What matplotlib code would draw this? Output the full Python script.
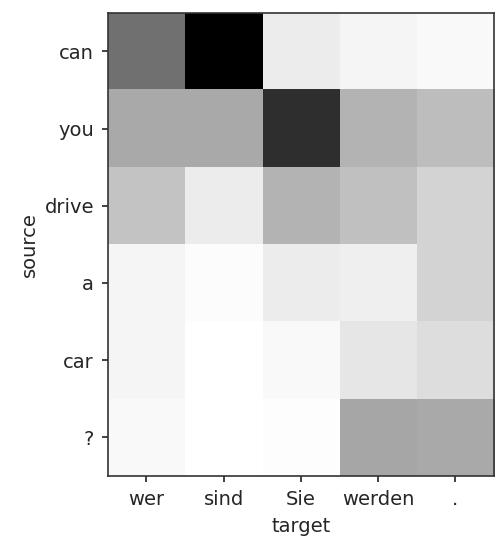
import numpy as np
import matplotlib
matplotlib.use('Agg')
import matplotlib.pyplot as plt

# attention weights (rows = source, cols = target)
source_tokens = ['can', 'you', 'drive', 'a', 'car', '?']
target_tokens = ['wer', 'sind', 'Sie', 'werden', '.']

att_can = [0.56, 1.00, 0.075, 0.04, 0.027]
att_you = [0.337, 0.337, 0.82, 0.294, 0.259]
att_drive = [0.235, 0.075, 0.298, 0.247, 0.173]
att_a = [0.04, 0.012, 0.075, 0.063, 0.173]
att_car = [0.04, 0.0, 0.027, 0.098, 0.133]
att_q = [0.027, 0.0, 0.008, 0.349, 0.337]

attention = np.array([att_can, att_you, att_drive, att_a, att_car, att_q])

txt = '#262626'
plt.rcParams['font.size'] = 14
plt.rcParams['text.color'] = txt
plt.rcParams['axes.labelcolor'] = txt

fig = plt.figure(figsize=(5.04, 5.56), dpi=100)
ax = fig.add_axes([0.214, 0.144, 0.766, 0.833])
ax.imshow(attention, cmap='gray_r', vmin=0, vmax=attention.max(), aspect='auto',
          interpolation='nearest')
ax.set_xticks(range(len(target_tokens)))
ax.set_xticklabels(target_tokens)
ax.set_yticks(range(len(source_tokens)))
ax.set_yticklabels(source_tokens)
ax.tick_params(axis='both', direction='out', length=4, width=1.3,
               color='#333333', labelcolor=txt)
ax.tick_params(axis='x', pad=6)
ax.tick_params(axis='y', pad=6)
ax.set_xlabel('target', labelpad=6)
ax.set_ylabel('source', labelpad=4)
for s in ax.spines.values():
    s.set_color('#333333')
    s.set_linewidth(1.2)

fig.savefig('out.png', dpi=100)
